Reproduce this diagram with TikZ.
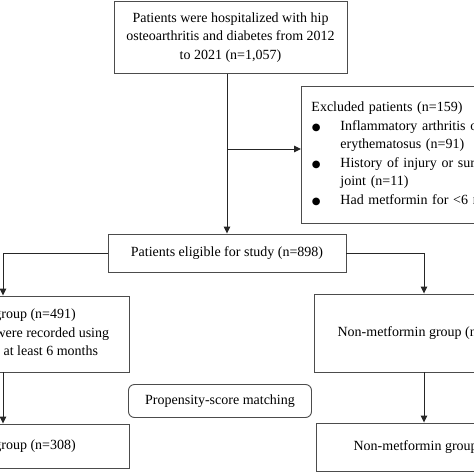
\documentclass[tikz,border=0pt]{standalone}
\usepackage{fontspec}
\setmainfont{Liberation Serif}
\newfontfamily\dotfont{DejaVu Sans}
\usetikzlibrary{arrows.meta}
\newcommand{\itembul}{\makebox[29pt][l]{\hspace*{0.5pt}{\dotfont\fontsize{10}{10}\selectfont ●}}}

\begin{document}
\begin{tikzpicture}[x=1pt, y=-1pt,
    font=\fontsize{14}{18.5}\selectfont,
    box/.style={draw=black!70, line width=0.9pt, align=center, inner sep=0pt},
    arr/.style={draw=black!85, line width=1pt, -{Triangle[width=6.5pt,length=7pt]}}]
\useasboundingbox (0,0) rectangle (474,474);
\clip (0,0) rectangle (474,474);

\node[box, minimum width=233pt, minimum height=72pt] (start) at (230.5,37.5)
  {Patients were hospitalized with hip\\osteoarthritis and diabetes from 2012\\to 2021 (n=1,057)};

\node[box, anchor=north west, minimum height=137pt, text width=340pt, inner xsep=10pt, align=left] (excl) at (301,85.5)
  {Excluded patients (n=159)\\
   \itembul Inflammatory arthritis or systemic lupus\\
   \hspace*{29pt}erythematosus (n=91)\\
   \itembul History of injury or surgery of the hip\\
   \hspace*{29pt}joint (n=11)\\
   \itembul Had metformin for <6 months (n=57)};

\node[box, minimum width=238pt, minimum height=38pt] (elig) at (227,253)
  {Patients eligible for study (n=898)};

\node[box, minimum width=253pt, minimum height=76pt] (met) at (3,334)
  {Metformin group (n=491)\\Metformin doses were recorded using\\continuously for at least 6 months};
\node[box, minimum width=220pt, minimum height=78pt] (non) at (424,333)
  {Non-metformin group (n=407)};

\node[box, rounded corners=6pt, minimum width=183pt, minimum height=33pt] (psm) at (220,401)
  {Propensity-score matching};

\node[box, minimum width=252pt, minimum height=44pt] (met2) at (3,446)
  {Metformin group (n=308)};
\node[box, minimum width=248pt, minimum height=48pt] (non2) at (440,447)
  {Non-metformin group (n=308)};

% connectors
\coordinate (split) at (elig.north |- 0,149);
\draw[arr] (start.south -| elig.north) -- (elig.north);
\draw[arr] (split) -- (split -| excl.west);
\draw[arr] (elig.west) -| (met.north);
\draw[arr] (elig.east) -| (non.north);
\draw[arr] (met.south) -- (met2.north);
\draw[arr] (non.south) -- (non.south |- non2.north);

\end{tikzpicture}
\end{document}
